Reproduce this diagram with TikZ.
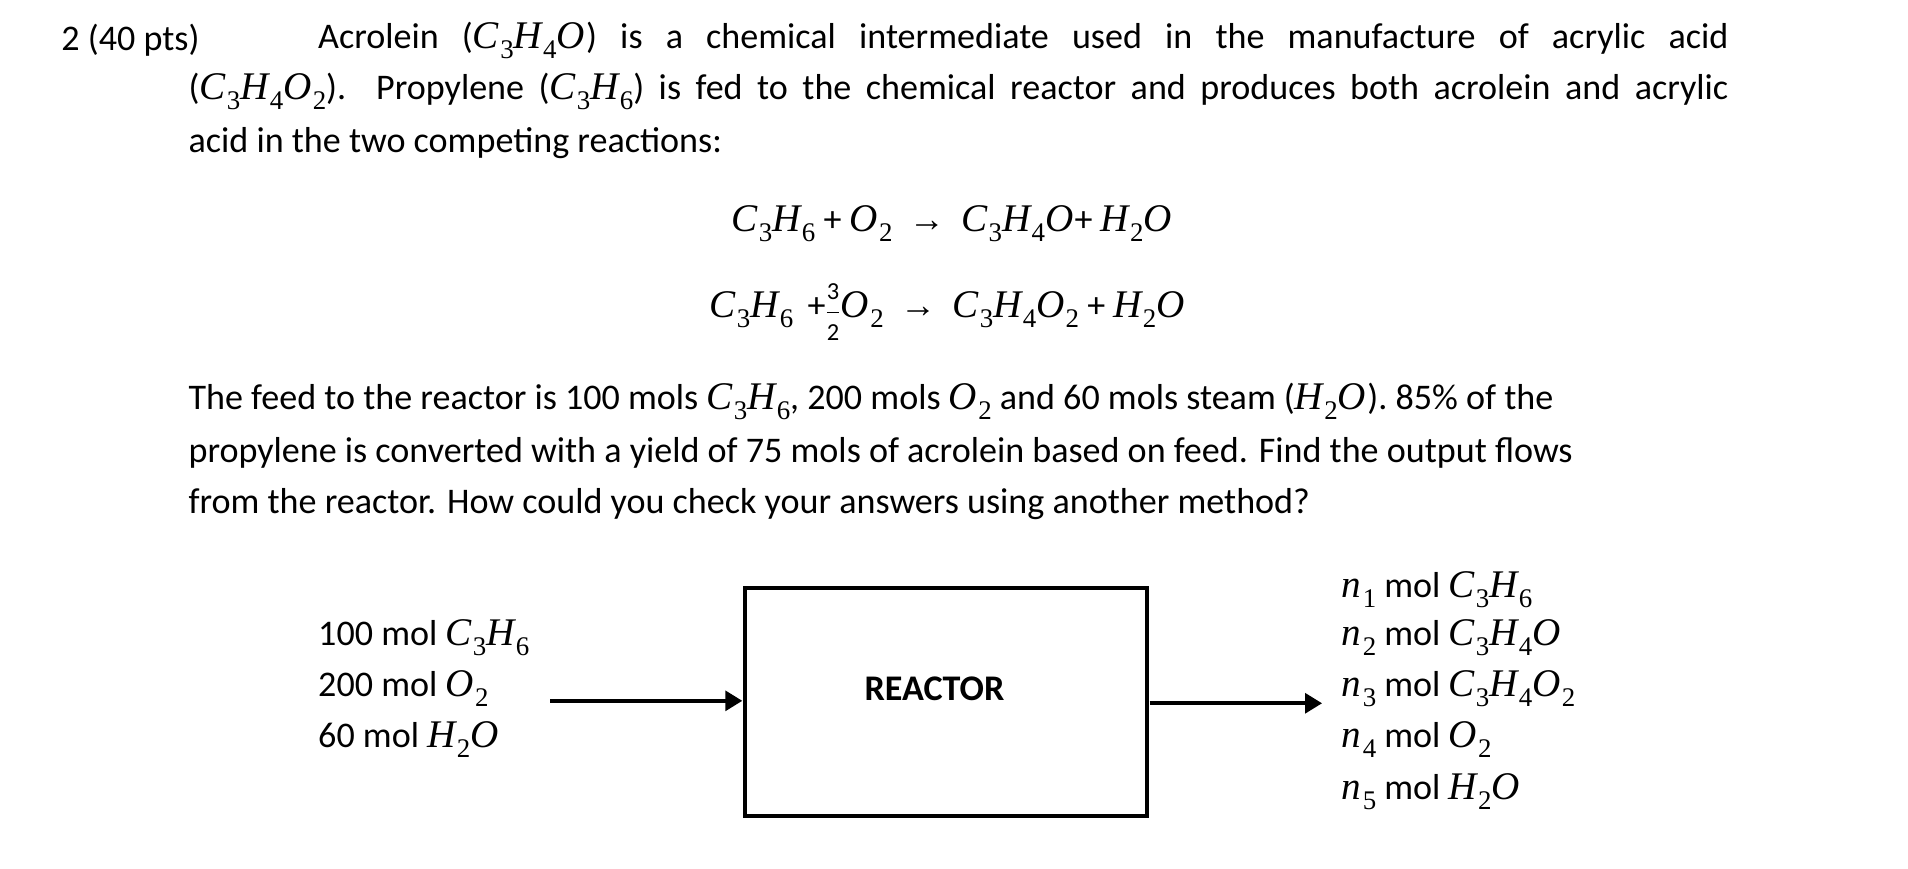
\documentclass[tikz,border=0pt]{standalone}
\usepackage{fontspec}
\setmainfont{Carlito}
\newfontfamily\mf{Liberation Serif}
\newcommand\mi[1]{{\mf\itshape\fontsize{32}{32}\selectfont #1\hspace{1pt}}}
\newcommand\dn[1]{\raisebox{-0.28em}{\fontsize{22}{22}\selectfont\mf #1}}
\newcommand\C{\mi{C}}\newcommand\Hh{\mi{H}}\newcommand\Oo{\mi{O}}
\begin{document}
\begin{tikzpicture}[x=1pt,y=-1pt,
 txt/.style={anchor=west,inner sep=0pt,font=\fontsize{29.5}{29.5}\selectfont},
 arr/.style={line width=3.5pt,-{Triangle[length=14pt,width=16pt]}}]
\usetikzlibrary{arrows.meta}
\useasboundingbox (0,0) rectangle (1560,710);
\node[txt] (l0) at (50,33) {2 (40 pts)};
\node[txt] (l1) at (260,33) {\makebox[1153pt][s]{Acrolein (\C\dn3\Hh\dn4\Oo) is a chemical intermediate used in the manufacture of acrylic acid}};
\node[txt] (l2) at (154,75) {\makebox[1259pt][s]{(\C\dn3\Hh\dn4\Oo\dn2). Propylene (\C\dn3\Hh\dn6) is fed to the chemical reactor and produces both acrolein and acrylic}};
\node[txt] (l3) at (154,117) {acid in the two competing reactions:};
\node[txt] (e1) at (598,183) {\C\dn3\Hh\dn6 + \Oo\dn2 \ {\mf →} \ \C\dn3\Hh\dn4\Oo + \Hh\dn2\Oo};
\node[txt] (e2) at (580,255) {\C\dn3\Hh\dn6 \,+\raisebox{-0.05em}{$\displaystyle{\hbox{\fontsize{20}{20}\selectfont 3}\over\hbox{\fontsize{20}{20}\selectfont 2}}$}\Oo\dn2 \ {\mf →} \ \C\dn3\Hh\dn4\Oo\dn2 + \Hh\dn2\Oo};
\node[txt] (l4) at (154,328) {The feed to the reactor is 100 mols \C\dn3\Hh\dn6, 200 mols \Oo\dn2 and 60 mols steam (\Hh\dn2\Oo). 85\% of the};
\node[txt] (l5) at (154,370) {propylene is converted with a yield of 75 mols of acrolein based on feed. Find the output flows};
\node[txt] (l6) at (154,412) {from the reactor. How could you check your answers using another method?};
\draw[line width=3pt] (609,481) rectangle (938,667);
\node[font=\fontsize{29.5}{29.5}\selectfont\bfseries] (R) at (764,563) {REACTOR};
\coordinate (rin) at (607,573); \coordinate (rout) at (940,575);
\coordinate (ain) at (450,573); \coordinate (aout) at (1081,575);
\draw[arr] (ain) -- (rin);
\draw[arr] (rout) -- (aout);
\node[txt] (i1) at (260,521) {100 mol \C\dn3\Hh\dn6};
\node[txt] (i2) at (260,563) {200 mol \Oo\dn2};
\node[txt] (i3) at (260,605) {60 mol \Hh\dn2\Oo};
\node[txt] (o1) at (1097,482) {\mi{n}\dn1 mol \C\dn3\Hh\dn6};
\node[txt] (o2) at (1097,521) {\mi{n}\dn2 mol \C\dn3\Hh\dn4\Oo};
\node[txt] (o3) at (1097,563) {\mi{n}\dn3 mol \C\dn3\Hh\dn4\Oo\dn2};
\node[txt] (o4) at (1097,605) {\mi{n}\dn4 mol \Oo\dn2};
\node[txt] (o5) at (1097,647) {\mi{n}\dn5 mol \Hh\dn2\Oo};
\end{tikzpicture}
\end{document}
